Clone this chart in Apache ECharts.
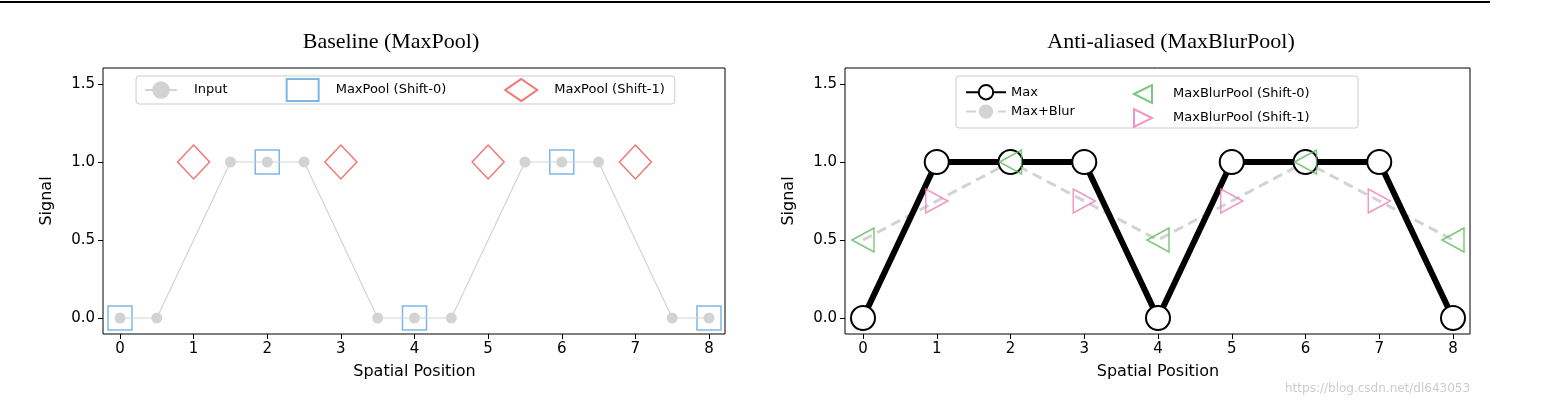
<!DOCTYPE html>
<html><head><meta charset="utf-8">
<script src="https://cdn.jsdelivr.net/npm/echarts@6/dist/echarts.min.js"></script>
<style>html,body{margin:0;padding:0;background:#fff}#c{width:1546px;height:406px}</style>
</head><body><div id="c"></div>
<script>
const inputX = [0,0.5,1.5,2,2.5,3.5,4,4.5,5.5,6,6.5,7.5,8];
const inputY = [0,0,1,1,1,0,0,0,1,1,1,0,0];
const shift0X = [0,2,4,6,8];
const maxPool0 = [0,1,0,1,0];
const shift1X = [1,3,5,7];
const maxPool1 = [1,1,1,1];
const posX = [0,1,2,3,4,5,6,7,8];
const maxVals = [0,1,1,1,0,1,1,1,0];
const maxBlur = [0.5,0.75,1,0.75,0.5,0.75,1,0.75,0.5];
const blurPool0 = [0.5,1,0.5,1,0.5];
const blurPool1 = [0.75,0.75,0.75,0.75];

const zip = (xs, ys) => xs.map((x,i)=>[x,ys[i]]);
const tri = {left:'path://M0,5 L10,0 L10,10 Z', right:'path://M10,5 L0,0 L0,10 Z'};
const F = 'DejaVu Sans';
function xAx(i){return {type:'value',gridIndex:i,min:0,max:8,interval:1,offset:16,
  name:'Spatial Position',nameLocation:'middle',nameGap:30,nameTextStyle:{fontSize:16,color:'#000',fontFamily:F},
  axisLine:{show:false,onZero:false},axisTick:{lineStyle:{color:'#000'},length:5},
  axisLabel:{fontSize:15,color:'#000',fontFamily:F},splitLine:{show:false}};}
function yAx(i,off){return {type:'value',gridIndex:i,min:0,max:1.5,interval:0.5,offset:off,
  name:'Signal',nameLocation:'middle',nameGap:48,nameTextStyle:{fontSize:16,color:'#000',fontFamily:F},
  axisLine:{show:false,onZero:false},axisTick:{lineStyle:{color:'#000'},length:5},
  axisLabel:{fontSize:15,color:'#000',fontFamily:F,formatter:v=>v.toFixed(1)},
  splitLine:{show:false}};}
const ch = echarts.init(document.getElementById('c'));
ch.setOption({
  animation:false,
  title:[
    {text:'Baseline (MaxPool)',left:386,top:26,textAlign:'center',textStyle:{fontFamily:'Liberation Serif',fontSize:22,fontWeight:'normal',color:'#000'}},
    {text:'Anti-aliased (MaxBlurPool)',left:1166,top:26,textAlign:'center',textStyle:{fontFamily:'Liberation Serif',fontSize:22,fontWeight:'normal',color:'#000'}},
    {text:'https://blog.csdn.net/dl643053',left:1280,top:378,textStyle:{fontFamily:F,fontSize:12,fontWeight:'normal',color:'#ccc'}}
  ],
  graphic:[
    {type:'line',shape:{x1:0,y1:2,x2:1490,y2:2},style:{stroke:'#000',lineWidth:2}},
    {type:'rect',shape:{x:103,y:68,width:622,height:266},style:{fill:'none',stroke:'#000',lineWidth:1},z:1},
    {type:'rect',shape:{x:845,y:68,width:625,height:266},style:{fill:'none',stroke:'#000',lineWidth:1},z:1},
    {type:'rect',shape:{x:956,y:76,width:402,height:52,r:3},style:{fill:'rgba(255,255,255,0.85)',stroke:'#ccc',lineWidth:1},z:10}
  ],
  grid:[{left:120,top:84,width:589,height:234},
        {left:863,top:84,width:590,height:234}],
  xAxis:[xAx(0),xAx(1)],
  yAxis:[yAx(0,17),yAx(1,18)],
  legend:[
    {data:['Input','MaxPool (Shift-0)','MaxPool (Shift-1)'],left:136,top:76,itemGap:58,itemWidth:32,itemHeight:22,
     padding:[2,10,2,8],borderColor:'#ccc',borderWidth:1,borderRadius:3,backgroundColor:'#fff',
     textStyle:{fontSize:13,fontFamily:F,color:'#000',padding:[0,0,0,12]}},
    {data:['Max','Max+Blur'],orient:'vertical',left:960,top:79,itemGap:4,itemWidth:40,itemHeight:18,z:20,
     textStyle:{fontSize:13,fontFamily:F,color:'#000'}},
    {data:['MaxBlurPool (Shift-0)','MaxBlurPool (Shift-1)'],orient:'vertical',left:1128,top:79,itemGap:4,itemWidth:34,itemHeight:18,z:20,
     textStyle:{fontSize:13,fontFamily:F,color:'#000',padding:[0,0,0,8]}}
  ],
  series:[
    {name:'Input',type:'line',xAxisIndex:0,yAxisIndex:0,data:zip(inputX,inputY),symbol:'circle',symbolSize:11,clip:false,
     lineStyle:{color:'#d3d3d3',width:1.2},itemStyle:{color:'#d3d3d3',borderWidth:0}},
    {name:'MaxPool (Shift-0)',type:'scatter',xAxisIndex:0,yAxisIndex:0,data:zip(shift0X,maxPool0),symbol:'rect',symbolSize:24,clip:false,
     itemStyle:{color:'rgba(255,255,255,0)',borderColor:'#5da5e0',borderWidth:1.5}},
    {name:'MaxPool (Shift-1)',type:'scatter',xAxisIndex:0,yAxisIndex:0,data:zip(shift1X,maxPool1),symbol:'diamond',symbolSize:[32,34],clip:false,
     itemStyle:{color:'rgba(255,255,255,0)',borderColor:'#ef5350',borderWidth:1.5}},
    {name:'Max',type:'line',xAxisIndex:1,yAxisIndex:1,data:zip(posX,maxVals),symbol:'circle',symbolSize:24,z:3,clip:false,
     lineStyle:{color:'#000',width:6},itemStyle:{color:'#fff',borderColor:'#000',borderWidth:2}},
    {name:'Max+Blur',type:'line',xAxisIndex:1,yAxisIndex:1,data:zip(posX,maxBlur),symbol:'none',z:2,clip:false,
     lineStyle:{color:'#d3d3d3',width:3,type:[10,6]},itemStyle:{color:'#d3d3d3'}},
    {name:'MaxBlurPool (Shift-0)',type:'scatter',xAxisIndex:1,yAxisIndex:1,data:zip(shift0X,blurPool0),symbol:tri.left,symbolSize:[22,24],z:5,clip:false,
     itemStyle:{color:'rgba(255,255,255,0)',borderColor:'#5cb85c',borderWidth:1.5}},
    {name:'MaxBlurPool (Shift-1)',type:'scatter',xAxisIndex:1,yAxisIndex:1,data:zip(shift1X,blurPool1),symbol:tri.right,symbolSize:[22,24],z:5,clip:false,
     itemStyle:{color:'rgba(255,255,255,0)',borderColor:'#f07ab4',borderWidth:1.5}}
  ]
});
</script></body></html>
